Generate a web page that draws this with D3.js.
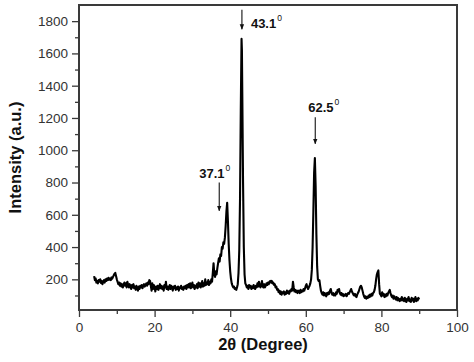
<!DOCTYPE html>
<html>
<head>
<meta charset="utf-8">
<script src="https://cdn.jsdelivr.net/npm/d3@7"></script>
<style>
  body { margin: 0; background: #fff; }
  svg { display: block; font-family: "Liberation Sans", Arial, sans-serif; }
</style>
</head>
<body>
<div id="chart"></div>
<script>
// tick values
const xTicks = [0, 20, 40, 60, 80, 100];
const xMinor = [10, 30, 50, 70, 90];
const yTicks = [200, 400, 600, 800, 1000, 1200, 1400, 1600, 1800];
const yMinor = [100, 300, 500, 700, 900, 1100, 1300, 1500, 1700];

// XRD scan: [2theta, intensity]
const scan = [
  [4.0,220],[4.2,195],[4.4,205],[4.6,180],[4.8,190],[5.0,175],[5.2,195],[5.4,185],[5.6,200],[5.8,178],
  [6.0,190],[6.2,170],[6.4,185],[6.6,195],[6.8,180],[7.0,200],[7.2,190],[7.4,205],[7.6,195],[7.8,210],
  [8.0,198],[8.2,205],[8.4,195],[8.6,212],[8.8,205],[9.0,215],[9.2,225],[9.4,235],[9.6,240],[9.8,220],
  [10.0,200],[10.2,185],[10.4,170],[10.6,180],[10.8,160],[11.0,175],[11.2,155],[11.4,170],[11.6,150],[11.8,165],
  [12.0,180],[12.2,160],[12.4,175],[12.6,150],[12.8,185],[13.0,165],[13.2,150],[13.4,170],[13.6,160],[13.8,140],
  [14.0,165],[14.2,150],[14.4,170],[14.6,145],[14.8,155],[15.0,135],[15.2,160],[15.4,145],[15.6,130],[15.8,155],
  [16.0,140],[16.2,160],[16.4,150],[16.6,165],[16.8,145],[17.0,160],[17.2,170],[17.4,155],[17.6,165],[17.8,175],
  [18.0,160],[18.2,180],[18.4,170],[18.6,195],[18.8,190],[19.0,160],[19.2,130],[19.4,175],[19.6,140],[19.8,165],
  [20.0,150],[20.2,125],[20.4,155],[20.6,140],[20.8,160],[21.0,135],[21.2,150],[21.4,170],[21.6,145],[21.8,160],
  [22.0,140],[22.2,155],[22.4,130],[22.6,165],[22.8,150],[23.0,185],[23.2,140],[23.4,155],[23.6,135],[23.8,150],
  [24.0,165],[24.2,140],[24.4,160],[24.6,150],[24.8,130],[25.0,155],[25.2,145],[25.4,160],[25.6,135],[25.8,150],
  [26.0,140],[26.2,155],[26.4,130],[26.6,150],[26.8,145],[27.0,160],[27.2,140],[27.4,150],[27.6,135],[27.8,155],
  [28.0,145],[28.2,160],[28.4,140],[28.6,165],[28.8,150],[29.0,170],[29.2,150],[29.4,175],[29.6,145],[29.8,160],
  [30.0,180],[30.2,150],[30.4,165],[30.6,140],[30.8,160],[31.0,150],[31.2,170],[31.4,145],[31.6,180],[31.8,155],
  [32.0,175],[32.2,150],[32.4,165],[32.6,190],[32.8,155],[33.0,175],[33.2,160],[33.4,200],[33.6,165],[33.8,180],
  [34.0,170],[34.2,195],[34.4,165],[34.6,185],[34.8,175],[35.0,200],[35.2,185],[35.4,240],[35.6,300],[35.8,230],
  [36.0,215],[36.2,250],[36.4,230],[36.6,270],[36.8,300],[37.0,330],[37.2,310],[37.4,355],[37.6,345],[37.8,400],
  [38.0,390],[38.2,430],[38.4,420],[38.6,460],[38.8,530],[39.0,620],[39.2,675],[39.4,560],[39.6,420],[39.8,320],
  [40.0,250],[40.2,205],[40.4,175],[40.6,160],[40.8,150],[41.0,155],[41.2,140],[41.4,145],[41.6,135],[41.8,150],
  [42.0,170],[42.2,240],[42.4,380],[42.6,700],[42.8,1250],[43.0,1690],[43.1,1620],[43.2,1350],[43.4,800],[43.6,400],
  [43.8,230],[44.0,175],[44.2,165],[44.4,150],[44.6,160],[44.8,140],[45.0,165],[45.2,150],[45.4,160],[45.6,140],
  [45.8,155],[46.0,145],[46.2,165],[46.4,150],[46.6,140],[46.8,160],[47.0,150],[47.2,175],[47.4,155],[47.6,185],
  [47.8,160],[48.0,150],[48.2,165],[48.4,190],[48.6,155],[48.8,150],[49.0,170],[49.2,150],[49.4,160],[49.6,175],
  [49.8,165],[50.0,180],[50.2,170],[50.4,185],[50.6,190],[50.8,180],[51.0,190],[51.2,175],[51.4,180],[51.6,165],
  [51.8,170],[52.0,150],[52.2,155],[52.4,135],[52.6,140],[52.8,120],[53.0,130],[53.2,110],[53.4,125],[53.6,105],
  [53.8,120],[54.0,115],[54.2,125],[54.4,105],[54.6,120],[54.8,110],[55.0,130],[55.2,115],[55.4,125],[55.6,110],
  [55.8,130],[56.0,125],[56.2,140],[56.4,130],[56.6,185],[56.8,150],[57.0,125],[57.2,135],[57.4,120],[57.6,130],
  [57.8,115],[58.0,130],[58.2,125],[58.4,115],[58.6,135],[58.8,120],[59.0,130],[59.2,125],[59.4,140],[59.6,130],
  [59.8,145],[60.0,160],[60.2,170],[60.4,150],[60.6,140],[60.8,150],[61.0,160],[61.2,175],[61.4,200],[61.6,260],
  [61.8,400],[62.0,620],[62.2,860],[62.4,952],[62.6,780],[62.8,480],[63.0,280],[63.2,200],[63.4,190],[63.6,195],
  [63.8,160],[64.0,130],[64.2,115],[64.4,105],[64.6,120],[64.8,100],[65.0,115],[65.2,105],[65.4,95],[65.6,115],
  [65.8,105],[66.0,120],[66.2,110],[66.4,130],[66.6,140],[66.8,120],[67.0,105],[67.2,115],[67.4,100],[67.6,110],
  [67.8,100],[68.0,120],[68.2,110],[68.4,135],[68.6,125],[68.8,140],[69.0,115],[69.2,105],[69.4,115],[69.6,100],
  [69.8,110],[70.0,95],[70.2,105],[70.4,100],[70.6,110],[70.8,95],[71.0,105],[71.2,115],[71.4,110],[71.6,120],
  [71.8,130],[72.0,140],[72.2,125],[72.4,115],[72.6,105],[72.8,100],[73.0,110],[73.2,95],[73.4,90],[73.6,105],
  [73.8,115],[74.0,125],[74.2,140],[74.4,155],[74.6,160],[74.8,150],[75.0,130],[75.2,110],[75.4,95],[75.6,85],
  [75.8,95],[76.0,80],[76.2,90],[76.4,85],[76.6,100],[76.8,90],[77.0,105],[77.2,95],[77.4,110],[77.6,100],
  [77.8,115],[78.0,120],[78.2,135],[78.4,160],[78.6,200],[78.8,230],[79.0,245],[79.2,255],[79.4,170],[79.6,110],
  [79.8,105],[80.0,95],[80.2,120],[80.4,100],[80.6,110],[80.8,90],[81.0,105],[81.2,95],[81.4,110],[81.6,100],
  [81.8,115],[82.0,125],[82.2,135],[82.4,115],[82.6,100],[82.8,90],[83.0,100],[83.2,80],[83.4,95],[83.6,85],
  [83.8,75],[84.0,90],[84.2,70],[84.4,85],[84.6,75],[84.8,65],[85.0,80],[85.2,70],[85.4,90],[85.6,70],
  [85.8,80],[86.0,65],[86.2,85],[86.4,70],[86.6,60],[86.8,80],[87.0,70],[87.2,90],[87.4,65],[87.6,75],
  [87.8,60],[88.0,85],[88.2,70],[88.4,80],[88.6,60],[88.8,75],[89.0,90],[89.2,65],[89.4,80],[89.6,70],
  [89.8,85],[90.0,75]
];

// marked reflections
const peakAngles = [37.1, 43.1, 62.5];
const peakLabels = ["37.1", "43.1", "62.5"];

const width = 474, height = 362;
const margin = { top: 5, right: 17, bottom: 52, left: 79 };
const axisColor = '#3a3a3a';
const textColor = '#333';

// arrow extents (intensity units) and text offsets per peak
const arrowLayout = [
  { top: 800, tip: 625, textY: 830, dx: -20 },
  { top: 1870, tip: 1750, textY: 1755, dx: 9 },
  { top: 1205, tip: 1040, textY: 1237, dx: -7 }
];

const svg = d3.select('#chart').append('svg')
  .attr('width', width)
  .attr('height', height);

const x = d3.scaleLinear().domain([0, 100]).range([margin.left, width - margin.right]);
const y = d3.scaleLinear().domain([10, 1900]).range([height - margin.bottom, margin.top]);

svg.append('defs').append('marker')
  .attr('id', 'arrowHead')
  .attr('viewBox', '0 0 10 10')
  .attr('refX', 9).attr('refY', 5)
  .attr('markerWidth', 5).attr('markerHeight', 5)
  .attr('orient', 'auto')
  .append('path')
  .attr('d', 'M0,1 L10,5 L0,9 Z')
  .attr('fill', '#111');

// Minor ticks
const minorX = svg.append('g')
  .attr('transform', `translate(0,${height - margin.bottom})`)
  .call(d3.axisBottom(x).tickValues(xMinor).tickSize(4).tickFormat(''));
const minorY = svg.append('g')
  .attr('transform', `translate(${margin.left},0)`)
  .call(d3.axisLeft(y).tickValues(yMinor).tickSize(4).tickFormat(''));

// Major ticks
const xAxis = svg.append('g')
  .attr('transform', `translate(0,${height - margin.bottom})`)
  .call(d3.axisBottom(x).tickValues(xTicks).tickSize(7).tickPadding(5).tickFormat(d3.format('d')));
const yAxis = svg.append('g')
  .attr('transform', `translate(${margin.left},0)`)
  .call(d3.axisLeft(y).tickValues(yTicks).tickSize(7).tickPadding(4).tickFormat(d3.format('d')));

[minorX, minorY, xAxis, yAxis].forEach(g => {
  g.select('.domain').remove();
  g.selectAll('.tick line').attr('stroke', axisColor).attr('stroke-width', 1.3);
  g.selectAll('.tick text').attr('fill', textColor).style('font-size', '13.5px');
});

// Frame
svg.append('rect')
  .attr('x', x(0)).attr('y', y(1900))
  .attr('width', x(100) - x(0))
  .attr('height', y(10) - y(1900))
  .attr('fill', 'none')
  .attr('stroke', axisColor)
  .attr('stroke-width', 2);

// Pattern
const line = d3.line()
  .x(d => x(d[0]))
  .y(d => y(d[1]));

svg.append('path')
  .datum(scan)
  .attr('fill', 'none')
  .attr('stroke', '#000')
  .attr('stroke-width', 2.1)
  .attr('stroke-linejoin', 'round')
  .attr('d', line);

// Peak annotations
peakAngles.forEach((a, i) => {
  const lay = arrowLayout[i];
  svg.append('line')
    .attr('x1', x(a)).attr('x2', x(a))
    .attr('y1', y(lay.top)).attr('y2', y(lay.tip))
    .attr('stroke', '#111')
    .attr('stroke-width', 1.1)
    .attr('marker-end', 'url(#arrowHead)');

  const t = svg.append('text')
    .attr('x', x(a) + lay.dx)
    .attr('y', y(lay.textY))
    .attr('fill', '#111')
    .style('font-size', '13px')
    .style('font-weight', 'bold')
    .text(peakLabels[i]);
  t.append('tspan')
    .attr('dy', -7)
    .attr('dx', 1)
    .style('font-size', '8.5px')
    .style('font-weight', 'normal')
    .text('0');
});

// Axis titles
svg.append('text')
  .attr('x', (x(0) + x(100)) / 2 - 5)
  .attr('y', 350)
  .attr('text-anchor', 'middle')
  .attr('fill', '#111')
  .style('font-size', '16.5px')
  .style('font-weight', 'bold')
  .text('2θ (Degree)');

svg.append('text')
  .attr('transform', `translate(21,${(y(10) + y(1900)) / 2}) rotate(-90)`)
  .attr('text-anchor', 'middle')
  .attr('fill', '#111')
  .style('font-size', '16.5px')
  .style('font-weight', 'bold')
  .text('Intensity (a.u.)');
</script>
</body>
</html>
